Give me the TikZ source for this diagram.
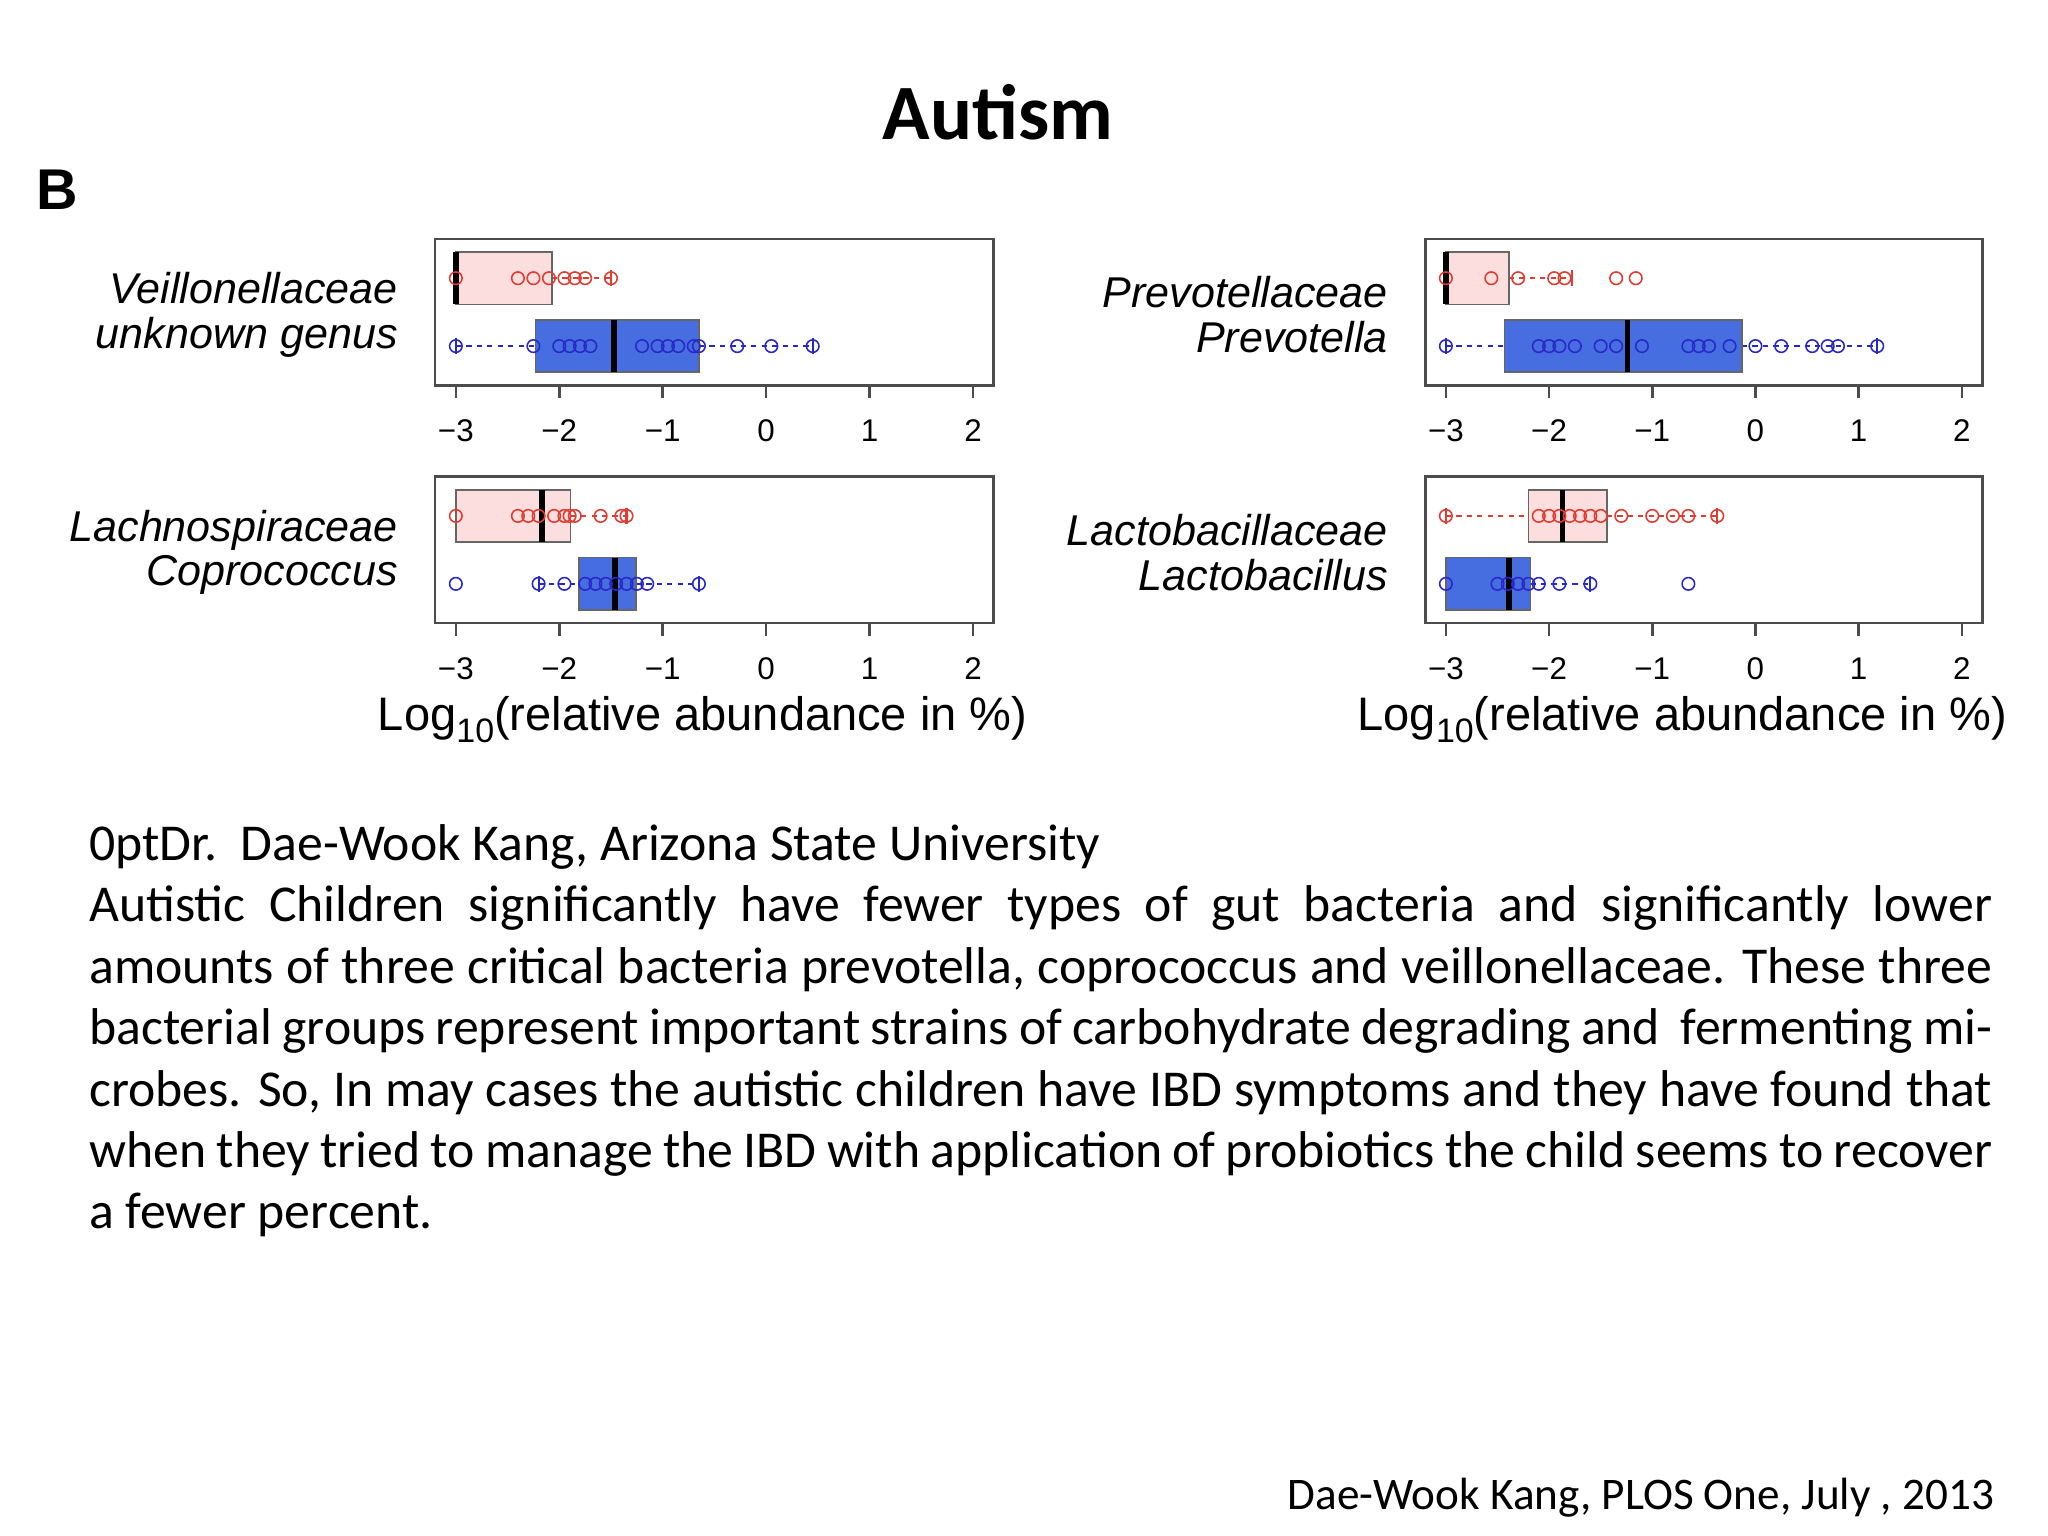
\documentclass[tikz,border=0pt]{standalone}
\usepackage{fontspec}
\setmainfont{Carlito}
\newfontfamily\hv{Liberation Sans}
\definecolor{rf}{RGB}{253,222,222}
\definecolor{rl}{RGB}{225,60,50}
\definecolor{bf}{RGB}{70,110,225}
\definecolor{bl}{RGB}{40,40,200}
\tikzset{pt/.style={draw,line width=0.6pt},
 wh/.style={dashed,line width=0.6pt,dash pattern=on 2pt off 2pt},
 frame/.style={draw=black!70,line width=1pt},
 tl/.style={font=\hv\fontsize{12}{12}\selectfont},
 sp/.style={font=\hv\itshape\fontsize{16.5}{17}\selectfont,align=right,anchor=east,inner sep=0pt},
 axt/.style={font=\hv\fontsize{18}{18}\selectfont}}
\newcommand\rowbox[8]{% y, color, fill, wlo, qlo, med, qhi, whi
 \draw[wh,#2] (#4,#1)--(#5,#1) (#7,#1)--(#8,#1);
 \draw[#2,line width=0.8pt] (#4,#1-6)--(#4,#1+6) (#8,#1-6)--(#8,#1+6);
 \draw[fill=#3,draw=black!60,line width=0.6pt] (#5,#1-20) rectangle (#7,#1+20);
 \draw[line width=2.2pt] (#6,#1-20)--(#6,#1+20);}
\newcommand\pts[3]{\foreach \p in {#3} \draw[pt,#2] (\p,#1) circle (2.4pt);}
\newcommand\axis[1]{%
 \draw[frame] (-3.2,#1-112) rectangle (2.2,#1);
 \draw[black!70,line width=1pt] (-3,#1)--(2,#1);
 \foreach \t in {-3,...,2}{\draw[black!70,line width=1pt] (\t,#1)--(\t,#1+10);
  \node[tl] at (\t,#1+35) {\ifnum\t<0 −\number\numexpr-\t\relax\else\t\fi};}}
\begin{document}
\begin{tikzpicture}[x=0.5pt,y=-0.5pt]
\useasboundingbox[fill=white] (0,0) rectangle (1568,1176);
\node[font=\bfseries\fontsize{30}{32}\selectfont] (title) at (764,86) {Autism};
\node[font=\hv\bfseries\fontsize{22}{22}\selectfont] (B) at (44,145) {B};
% left plots
\begin{scope}[shift={(586.6,0)},x=39.6pt]
 \axis{295}
 \rowbox{213}{rl}{rf}{-3}{-3}{-3}{-2.07}{-1.5}
 \pts{213}{rl}{-2.4,-2.25,-2.1,-1.95,-1.85,-1.75,-1.5,-3}
 \rowbox{265}{bl}{bf}{-3}{-2.23}{-1.47}{-0.65}{0.45}
 \pts{265}{bl}{-3,-2.25,-2.0,-1.9,-1.8,-1.7,-1.2,-1.05,-0.95,-0.85,-0.7,-0.65,-0.28,0.05,0.45}
 \axis{477}
 \rowbox{395}{rl}{rf}{-3}{-3}{-2.17}{-1.89}{-1.35}
 \pts{395}{rl}{-3,-2.4,-2.3,-2.2,-2.05,-1.95,-1.9,-1.85,-1.6,-1.4,-1.35}
 \rowbox{447}{bl}{bf}{-2.2}{-1.81}{-1.46}{-1.26}{-0.65}
 \pts{447}{bl}{-3,-2.2,-1.95,-1.75,-1.65,-1.55,-1.45,-1.35,-1.25,-1.15,-0.65}
\end{scope}
\node[sp] (l1) at (305,241) {Veillonellaceae\\unknown genus};
\node[sp] (l2) at (305,423) {Lachnospiraceae\\Coprococcus};
\node[axt] (ax1) at (538,551) {Log\raisebox{-0.45ex}{\fontsize{13}{13}\selectfont 10}(relative abundance in \%)};
% right plots
\begin{scope}[shift={(1344,0)},x=39.5pt]
 \axis{295}
 \rowbox{213}{rl}{rf}{-3}{-3}{-3}{-2.39}{-1.78}
 \pts{213}{rl}{-3,-2.56,-2.3,-1.95,-1.85,-1.35,-1.16}
 \rowbox{265}{bl}{bf}{-3}{-2.43}{-1.24}{-0.13}{1.18}
 \pts{265}{bl}{-3,-2.1,-2.0,-1.9,-1.75,-1.5,-1.35,-1.1,-0.65,-0.55,-0.45,-0.25,0.0,0.25,0.55,0.7,0.8,1.18}
 \axis{477}
 \rowbox{395}{rl}{rf}{-3}{-2.2}{-1.87}{-1.44}{-0.37}
 \pts{395}{rl}{-3,-2.1,-2.0,-1.9,-1.8,-1.7,-1.6,-1.5,-1.3,-1.0,-0.8,-0.65,-0.37}
 \rowbox{447}{bl}{bf}{-3}{-3}{-2.39}{-2.18}{-1.6}
 \pts{447}{bl}{-3,-2.5,-2.4,-2.3,-2.2,-2.1,-1.9,-1.6,-0.65}
\end{scope}
\node[sp] (r1) at (1063,241) {Prevotellaceae\\Prevotella};
\node[sp] (r2) at (1063,423) {Lactobacillaceae\\Lactobacillus};
\node[axt] (ax2) at (1288,551) {Log\raisebox{-0.45ex}{\fontsize{13}{13}\selectfont 10}(relative abundance in \%)};
\node[anchor=north west,text width=728.5pt,align=justify,inner sep=0pt,font=\fontsize{19.8}{23.5}\selectfont\hyphenpenalty=10000 \exhyphenpenalty=10000\relax] (body) at (68,631) {Dr.\ \ Dae-Wook Kang, Arizona State University\\
Autistic Children significantly have fewer types of gut bacteria and significantly lower amounts of three critical bacteria prevotella, coprococcus and veillonellaceae. These three bacterial groups represent important strains of carbohydrate degrading and\ \ fermenting microbes. So, In may cases the autistic children have IBD symptoms and they have found that when they tried to manage the IBD with application of probiotics the child seems to recover a fewer percent.};
\node[anchor=east,inner sep=0pt,font=\fontsize{17.3}{18}\selectfont] (cite) at (1527,1147) {Dae-Wook Kang, PLOS One, July , 2013};
\end{tikzpicture}
\end{document}
